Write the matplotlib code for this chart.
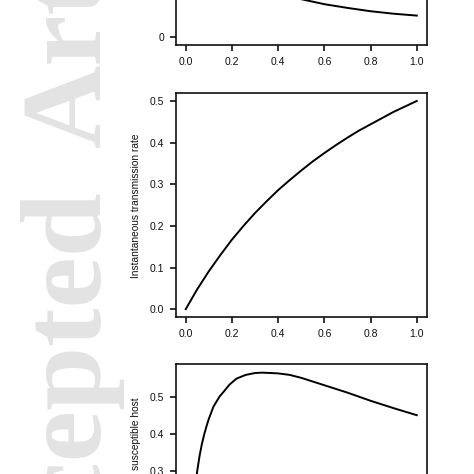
import matplotlib
matplotlib.use('Agg')
import matplotlib.pyplot as plt
from matplotlib.ticker import FormatStrFormatter

plt.rcParams['font.family'] = ['Liberation Sans', 'DejaVu Sans']

# top panel (only its lower part is visible)
x_top = [0.1, 0.2, 0.3, 0.4, 0.5, 0.6, 0.7, 0.8, 0.9, 1.0]
y_top = [9.0, 4.5, 3.0, 2.25, 1.82, 1.58, 1.40, 1.24, 1.12, 1.03]

# middle panel: instantaneous transmission rate
x_mid = [0.0, 0.05, 0.1, 0.15, 0.2, 0.25, 0.3, 0.35, 0.4, 0.45, 0.5,
         0.55, 0.6, 0.65, 0.7, 0.75, 0.8, 0.85, 0.9, 0.95, 1.0]
y_mid = [0.0, 0.048, 0.091, 0.130, 0.167, 0.200, 0.231, 0.259, 0.286, 0.310, 0.333,
         0.355, 0.375, 0.394, 0.412, 0.429, 0.444, 0.459, 0.474, 0.487, 0.500]

# bottom panel (only its upper part is visible)
x_bot = [0.0, 0.01, 0.02, 0.03, 0.04, 0.05, 0.06, 0.07, 0.08, 0.09, 0.10,
         0.12, 0.146, 0.165, 0.19, 0.22, 0.26, 0.30, 0.33, 0.37, 0.40, 0.45,
         0.50, 0.60, 0.70, 0.80, 0.90, 1.0]
y_bot = [0.0, 0.07, 0.135, 0.195, 0.25, 0.30, 0.34, 0.372, 0.398, 0.42, 0.44,
         0.473, 0.50, 0.514, 0.533, 0.549, 0.559, 0.564, 0.565, 0.564, 0.563, 0.559,
         0.551, 0.531, 0.511, 0.489, 0.469, 0.450]

x_ticks = [0.0, 0.2, 0.4, 0.6, 0.8, 1.0]

W = 474.0
fig = plt.figure(figsize=(4.74, 4.74), dpi=100)

# watermark
wm = dict(rotation=90, rotation_mode='anchor', va='baseline', color='#e3e3e3',
          fontsize=83, family='Liberation Serif', fontweight='bold', zorder=0)
fig.text(100 / W, 327 / W, 'Article', ha='left', **wm)
fig.text(100 / W, 284 / W, 'Accepted', ha='right', **wm)

left = 176 / W
width = 250.7 / W
height = 224 / W
ink = '#111111'

def style(ax):
    for s in ax.spines.values():
        s.set_linewidth(1.2)
        s.set_color(ink)
    ax.tick_params(direction='out', length=4.3, width=1.2, labelsize=7.5,
                   colors=ink, pad=4)
    ax.set_xlim(-0.042, 1.043)
    ax.set_xticks(x_ticks)
    ax.xaxis.set_major_formatter(FormatStrFormatter('%.1f'))

ax1 = fig.add_axes([left, (W - 45) / W, width, height])
ax1.plot(x_top, y_top, color='black', lw=1.4)
style(ax1)
ax1.set_ylim(-0.386, 10.4)
ax1.set_yticks([0])

ax2 = fig.add_axes([left, (W - 317.3) / W, width, height])
ax2.plot(x_mid, y_mid, color='black', lw=1.4)
style(ax2)
ax2.set_ylim(-0.0195, 0.5185)
ax2.set_yticks([0.0, 0.1, 0.2, 0.3, 0.4, 0.5])
ax2.yaxis.set_major_formatter(FormatStrFormatter('%.1f'))
ax2.text(-0.141, 0.5, 'Instantaneous transmission rate', transform=ax2.transAxes,
         rotation=90, rotation_mode='anchor', ha='center', va='bottom',
         fontsize=7.3, color=ink)

ax3 = fig.add_axes([left, (W - 364.3) / W - height, width, height])
ax3.plot(x_bot, y_bot, color='black', lw=1.4)
style(ax3)
ax3.tick_params(labelbottom=False)
ax3.set_ylim(-0.018, 0.5876)
ax3.set_yticks([0.3, 0.4, 0.5])
ax3.yaxis.set_major_formatter(FormatStrFormatter('%.1f'))
ax3.text(-0.141, 0.854, 'susceptible host', transform=ax3.transAxes,
         rotation=90, rotation_mode='anchor', ha='right', va='bottom',
         fontsize=7.3, color=ink)

fig.savefig('out.png', dpi=100)
